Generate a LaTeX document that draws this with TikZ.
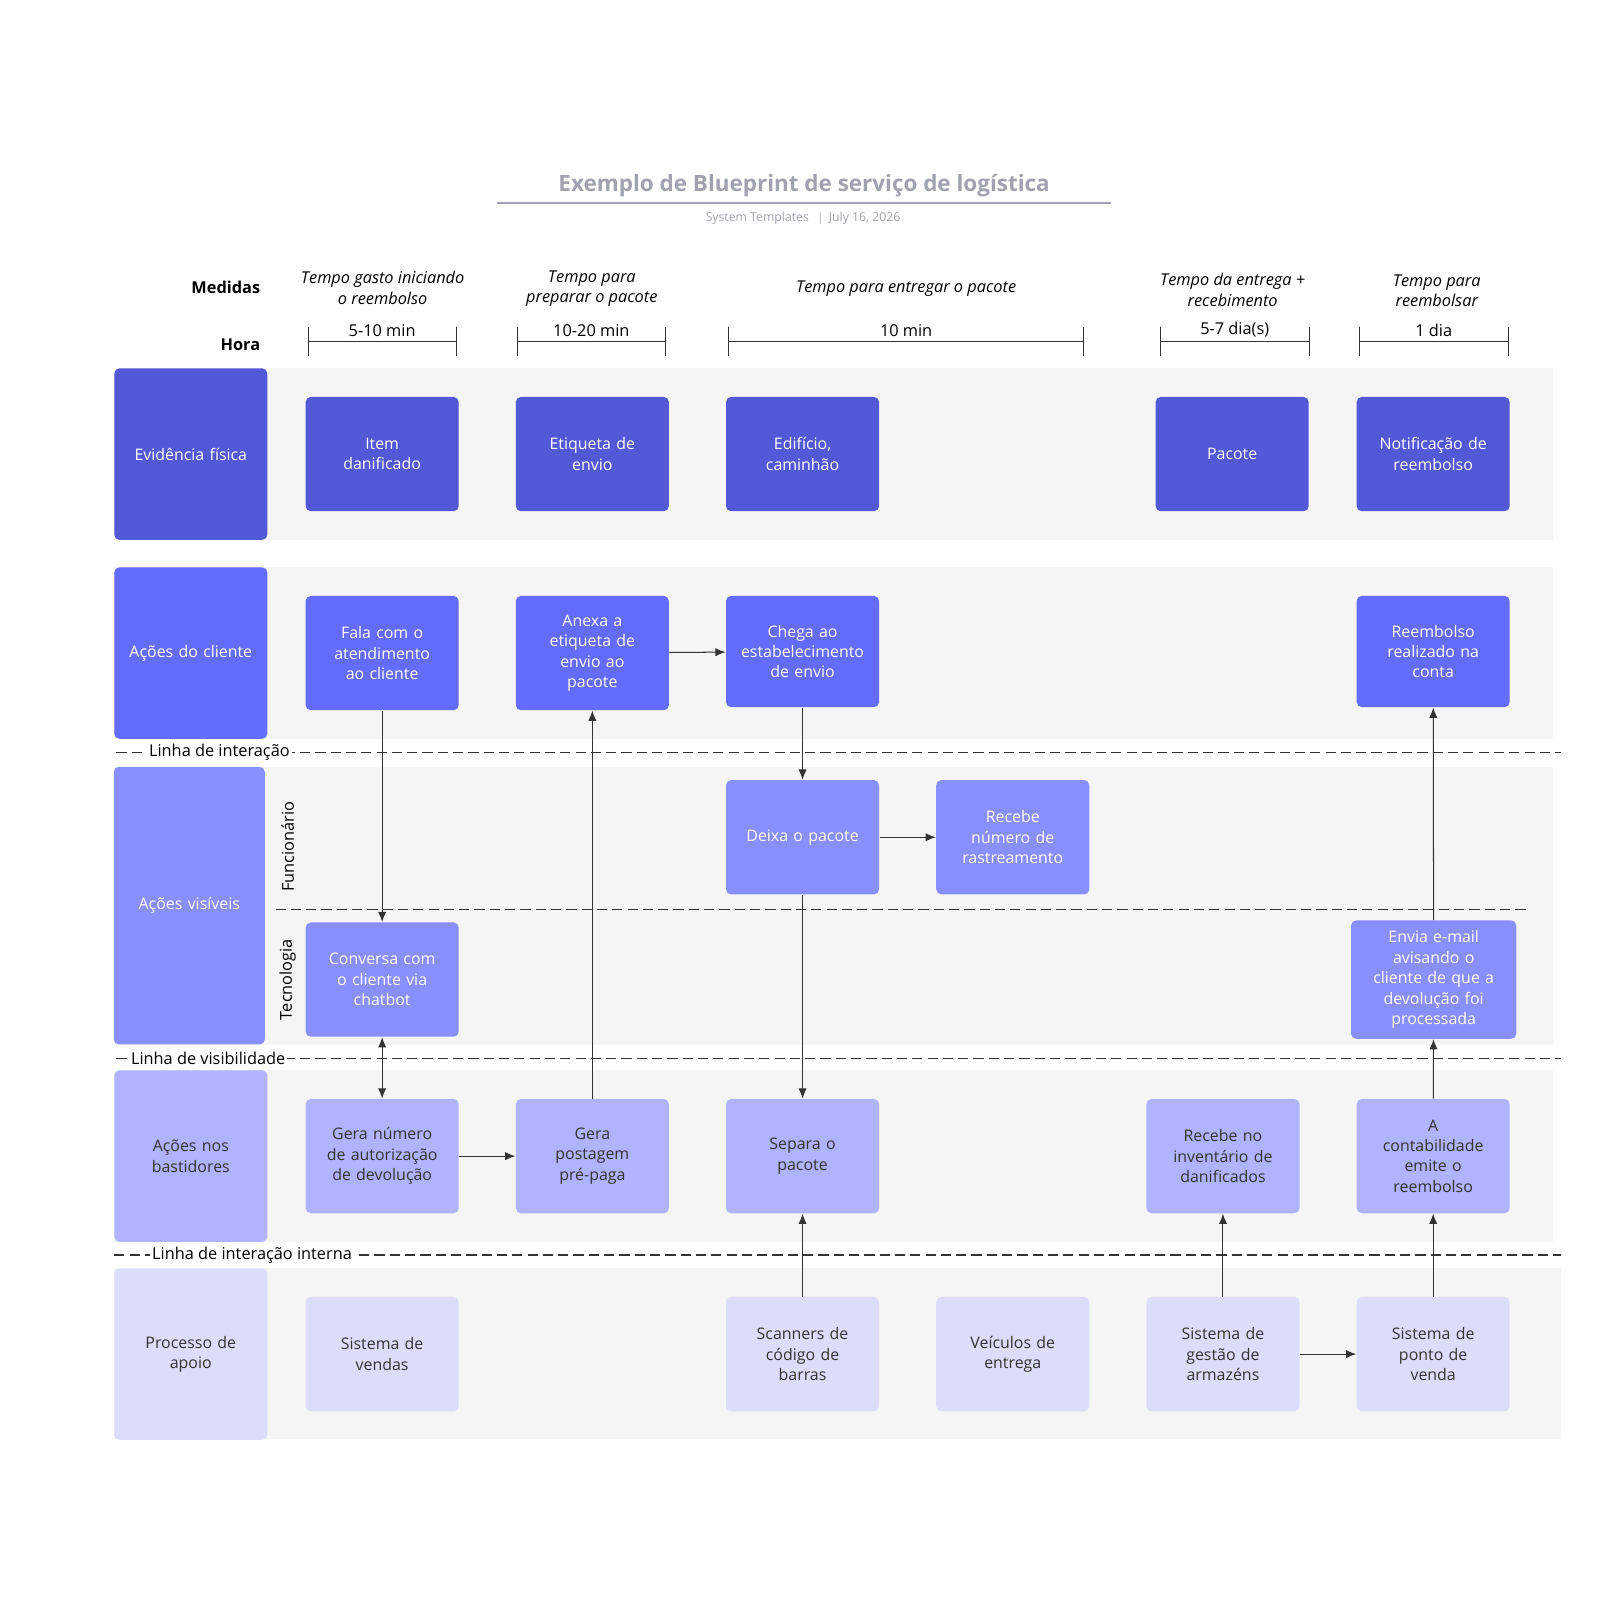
\documentclass[tikz,border=0pt]{standalone}
\usepackage{fontspec}
\setmainfont{Open Sans}
\usetikzlibrary{arrows.meta}
\definecolor{cA}{HTML}{5359D6}
\definecolor{cB}{HTML}{646CFF}
\definecolor{cC}{HTML}{8A8FFF}
\definecolor{cD}{HTML}{B0B3FF}
\definecolor{cE}{HTML}{DCDDFB}
\definecolor{band}{HTML}{F5F5F5}
\definecolor{ttl}{HTML}{A0A3AD}
\begin{document}
\begin{tikzpicture}[x=0.5pt,y=-0.5pt,
 box/.style={fill=#1,rounded corners=2.5pt,minimum width=75pt,minimum height=56pt,inner sep=1pt,align=center,text width=72pt,font=\fontsize{7.8}{10}\selectfont},
 wbox/.style={box=#1,text=white},
 kbox/.style={box=#1,text=black!80},
 arr/.style={-{Latex[length=5pt,width=4pt]},black!80,line width=0.5pt},
 dl/.style={dashed,dash pattern=on 5pt off 2.5pt,line width=0.5pt,black!80},
 lbl/.style={font=\fontsize{8}{10}\selectfont,fill=white,inner sep=1pt},
 hd/.style={font=\fontsize{8}{10}\selectfont\itshape,align=center},
 br/.style={line width=0.5pt,black!80}]
\useasboundingbox (0,0) rectangle (1568,1568);
% title
\node[font=\fontsize{11}{13}\selectfont\bfseries,text=ttl] (title) at (788,182) {Exemplo de Blueprint de serviço de logística};
\draw[ttl,line width=0.7pt] (487,199) -- (1089,199);
\node[font=\fontsize{6}{8}\selectfont,text=ttl] (sub) at (787,214) {System Templates \enspace$|$\enspace July 16, 2026};
% header
\node[font=\fontsize{8}{10}\selectfont\bfseries,anchor=east] (med) at (262,282) {Medidas};
\node[font=\fontsize{8}{10}\selectfont\bfseries,anchor=east] (hora) at (262,338) {Hora};
\node[hd] (h1) at (375,282) {Tempo gasto iniciando\\o reembolso};
\node[hd] (h2) at (580,283) {Tempo para\\preparar o pacote};
\node[hd] (h3) at (888,283) {Tempo para entregar o pacote};
\node[hd] (h4) at (1208,284) {Tempo da entrega +\\recebimento};
\node[hd] (h5) at (1408,285) {Tempo para\\reembolsar};
\foreach \a/\b/\t/\n in {302/447/5-10 min/t1,507/652/10-20 min/t2,714/1062/10 min/t3,1137/1283/5-7 dia(s)/t4,1332/1478/1 dia/t5}{
 \draw[br] (\a,320) -- (\a,349) (\b,320) -- (\b,349) (\a,335) -- (\b,335);
 \node[font=\fontsize{8}{10}\selectfont,anchor=south] (\n) at ({(\a+\b)/2},337) {\t};}
% bands
\fill[band] (112,361) rectangle (1522,529);
\fill[band] (112,556) rectangle (1522,724);
\fill[band] (112,752) rectangle (1522,1024);
\fill[band] (112,1049) rectangle (1522,1217);
\fill[band] (112,1243) rectangle (1530,1410);
% lane labels
\node[wbox=cA,minimum width=75pt,minimum height=84pt] (L1) at (187,445) {Evidência física};
\node[wbox=cB,minimum height=84pt] (L2) at (187,640) {Ações do cliente};
\node[wbox=cC,minimum width=73.5pt,minimum height=136pt] (L3) at (185.5,887.5) {Ações visíveis};
\node[kbox=cD,minimum height=84pt] (L4) at (187,1133) {Ações nos\\bastidores};
\node[kbox=cE,minimum height=84pt] (L5) at (187,1327) {Processo de\\apoio};
\node[rotate=90,font=\fontsize{8}{10}\selectfont] (fu) at (282,830) {Funcionário};
\node[rotate=90,font=\fontsize{8}{10}\selectfont] (te) at (282,960) {Tecnologia};
% lines
\draw[dl] (114,737) -- (1530,737);
\node[lbl] (li) at (215,737) {Linha de interação};
\draw[dl] (270,891) -- (1495,891);
\draw[dl] (114,1037) -- (1530,1037);
\node[lbl] (lv) at (204,1037) {Linha de visibilidade};
\draw[dl,line width=0.9pt] (112,1230) -- (1530,1230);
\node[lbl] (lii) at (247,1230) {Linha de interação interna};
% row1
\node[wbox=cA] (a1) at (374.5,445) {Item\\danificado};
\node[wbox=cA] (a2) at (580.5,445) {Etiqueta de\\envio};
\node[wbox=cA] (a3) at (786.5,445) {Edifício,\\caminhão};
\node[wbox=cA] (a4) at (1207.5,445) {Pacote};
\node[wbox=cA] (a5) at (1404.5,445) {Notificação de\\reembolso};
% row2
\node[wbox=cB] (b1) at (374.5,640) {Fala com o\\atendimento\\ao cliente};
\node[wbox=cB] (b2) at (580.5,640) {Anexa a\\etiqueta de\\envio ao\\pacote};
\node[wbox=cB,minimum height=54.5pt] (b3) at (786.5,638.5) {Chega ao\\estabelecimento\\de envio};
\node[wbox=cB,minimum height=54.5pt] (b5) at (1404.5,638.5) {Reembolso\\realizado na\\conta};
% row3
\node[wbox=cC] (c1) at (786.5,820.5) {Deixa o pacote};
\node[wbox=cC] (c2) at (992.5,820.5) {Recebe\\número de\\rastreamento};
\node[wbox=cC] (c3) at (374.5,960) {Conversa com\\o cliente via\\chatbot};
\node[wbox=cC,minimum width=81pt,minimum height=58pt,text width=79pt] (c4) at (1405,960) {Envia e-mail\\avisando o\\cliente de que a\\devolução foi\\processada};
% row4
\node[kbox=cD] (d1) at (374.5,1133) {Gera número\\de autorização\\de devolução};
\node[kbox=cD] (d2) at (580.5,1133) {Gera\\postagem\\pré-paga};
\node[kbox=cD] (d3) at (786.5,1133) {Separa o\\pacote};
\node[kbox=cD] (d4) at (1198.5,1133) {Recebe no\\inventário de\\danificados};
\node[kbox=cD] (d5) at (1404.5,1133) {A\\contabilidade\\emite o\\reembolso};
% row5
\node[kbox=cE] (e1) at (374.5,1327) {Sistema de\\vendas};
\node[kbox=cE] (e3) at (786.5,1327) {Scanners de\\código de\\barras};
\node[kbox=cE] (e4) at (992.5,1327) {Veículos de\\entrega};
\node[kbox=cE] (e5) at (1198.5,1327) {Sistema de\\gestão de\\armazéns};
\node[kbox=cE] (e6) at (1404.5,1327) {Sistema de\\ponto de\\venda};
% arrows
\draw[arr] (b1) -- (c3);
\draw[arr] (d2) -- (b2);
\draw[arr] (b2) -- (b3);
\draw[arr] (b3) -- (c1);
\draw[arr] (c1) -- (c2);
\draw[arr] (c1) -- (d3);
\draw[arr,{Latex[length=5pt,width=4pt]}-{Latex[length=5pt,width=4pt]}] (c3) -- (d1);
\draw[arr] (d1) -- (d2);
\draw[arr] (e3) -- (d3);
\draw[arr] (e5) -- (d4);
\draw[arr] (e5) -- (e6);
\draw[arr] (e6) -- (d5);
\draw[arr] (d5) -- (c4);
\draw[arr] (c4) -- (b5);
\end{tikzpicture}
\end{document}
